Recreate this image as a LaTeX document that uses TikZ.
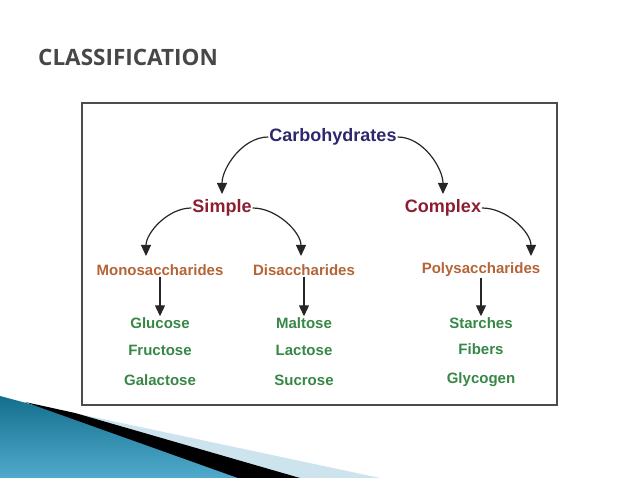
\documentclass[tikz,border=0pt]{standalone}
\usepackage{fontspec}
\setmainfont{Liberation Sans}
\newfontfamily\titlefont{Open Sans}
\usetikzlibrary{arrows.meta}
\definecolor{navy}{RGB}{45,40,110}
\definecolor{wine}{RGB}{140,30,50}
\definecolor{rust}{RGB}{180,100,55}
\definecolor{leaf}{RGB}{55,135,70}
\definecolor{teal1}{RGB}{20,110,140}
\definecolor{teal2}{RGB}{80,170,205}
\definecolor{pale}{RGB}{205,228,238}
\begin{document}
\begin{tikzpicture}[x=1pt,y=-1pt,
  t/.style={font=\bfseries\fontsize{15}{17}\selectfont,inner sep=1pt},
  big/.style={font=\bfseries\fontsize{18}{20}\selectfont,inner sep=1pt},
  arr/.style={-{Triangle[length=11pt,width=10pt]},line width=1.2pt,black!85}]
\useasboundingbox (0,0) rectangle (638,478);
% decoration
\fill[pale] (70,412) -- (380,478) -- (285,478) -- cycle;
\shade[left color=teal1,right color=teal2,shading angle=0] (0,396) -- (45,408) -- (240,478) -- (0,478) -- cycle;
\fill[black] (25,402) -- (75,413) -- (300,478) -- (238,478) -- cycle;
% title
\node[anchor=west,text=black!72,font=\titlefont\bfseries\fontsize{22.5}{26}\selectfont,inner sep=0pt] (title) at (38,57) {CLASSIFICATION};
% frame
\draw[line width=1.2pt,black!70] (82,103) rectangle (557,405);
\node[big,text=navy] (c) at (333,137) {Carbohydrates};
\node[big,text=wine] (s) at (222,208) {Simple};
\node[big,text=wine] (x) at (443,208) {Complex};
\node[t,text=rust] (m) at (160,270) {Monosaccharides};
\node[t,text=rust] (d) at (304,270) {Disaccharides};
\node[t,text=rust] (p) at (481,270) {Polysaccharides};
\foreach \n/\x/\y/\l in {g1/160/323/Glucose,g2/160/350/Fructose,g3/160/380/Galactose,
  h1/304/323/Maltose,h2/304/350/Lactose,h3/304/380/Sucrose,
  k1/481/323/Starches,k2/481/349/Fibers,k3/481/380/Glycogen}
  \node[t,text=leaf] (\n) at (\x,\y) {\l};
\draw[arr] (c.west) to[out=180,in=90,looseness=0.9] (222,194);
\draw[arr] (c.east) to[out=0,in=90,looseness=0.9] (443,194);
\draw[arr] (s.west) to[out=180,in=90,looseness=0.9] (146,256);
\draw[arr] (s.east) to[out=0,in=90,looseness=0.9] (301,256);
\draw[arr] (x.east) to[out=0,in=90,looseness=0.9] (531,256);
\draw[arr] (m.south) -- (g1.north);
\draw[arr] (d.south) -- (h1.north);
\draw[arr] (p.south) -- (k1.north);
\end{tikzpicture}
\end{document}
